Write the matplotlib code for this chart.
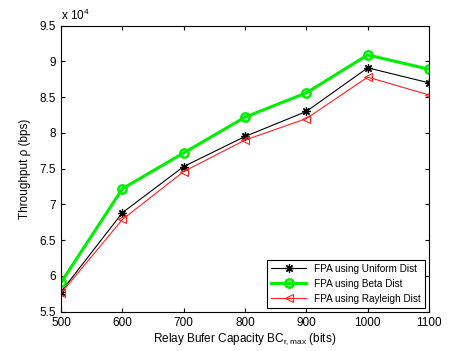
import matplotlib
matplotlib.use("Agg")
import matplotlib.pyplot as plt
from matplotlib.ticker import FuncFormatter

plt.rcParams['font.family'] = ['Liberation Sans', 'DejaVu Sans']
plt.rcParams['mathtext.fontset'] = 'custom'
plt.rcParams['mathtext.rm'] = 'Liberation Sans'

# buffer capacity (bits)
capacity = [500, 600, 700, 800, 900, 1000, 1100]

# throughput (bps)
uniform = [57800, 68850, 75300, 79500, 83000, 89100, 87000]
beta = [59100, 72200, 77200, 82200, 85600, 90900, 88900]
rayleigh = [57600, 67900, 74600, 79000, 82000, 87800, 85300]

fig = plt.figure(figsize=(4.74, 3.51), dpi=100)
ax = fig.add_axes([0.129, 0.112, 0.776, 0.815])

ax.plot(capacity, uniform, color='black', lw=0.8, marker=(8, 2, 0), ms=6,
        mew=0.9, label='FPA using Uniform Dist')
ax.plot(capacity, beta, color='#00ee00', lw=2.2, marker='o', ms=6,
        mfc='none', mew=1.8, label='FPA using Beta Dist')
ax.plot(capacity, rayleigh, color='#ff2020', lw=0.8, marker='<', ms=6,
        mfc='none', mew=0.8, label='FPA using Rayleigh Dist')

ax.set_xlim(500, 1100)
ax.set_ylim(55000, 95000)
ax.set_xticks(capacity)
ax.set_yticks([55000 + 5000 * i for i in range(9)])
ax.yaxis.set_major_formatter(FuncFormatter(lambda v, p: '%g' % (v / 1e4)))
ax.tick_params(direction='in', top=True, right=True, labelsize=8.5, length=3)
for s in ax.spines.values():
    s.set_linewidth(0.8)

ax.text(0.0, 1.008, r'x 10$^4$', transform=ax.transAxes, fontsize=8.5,
        ha='left', va='bottom')

ax.set_xlabel(r'Relay Bufer Capacity BC$_{\mathrm{r,max}}$ (bits)', fontsize=8.5, labelpad=2)
ax.set_ylabel('Throughput ρ (bps)', fontsize=8.5, labelpad=6)

leg = ax.legend(loc='lower right', fontsize=7.2, fancybox=False, framealpha=1,
                edgecolor='black', borderaxespad=0.4, handlelength=3.5,
                labelspacing=0.5)
leg.get_frame().set_linewidth(0.8)

fig.savefig('out.png', dpi=100)
